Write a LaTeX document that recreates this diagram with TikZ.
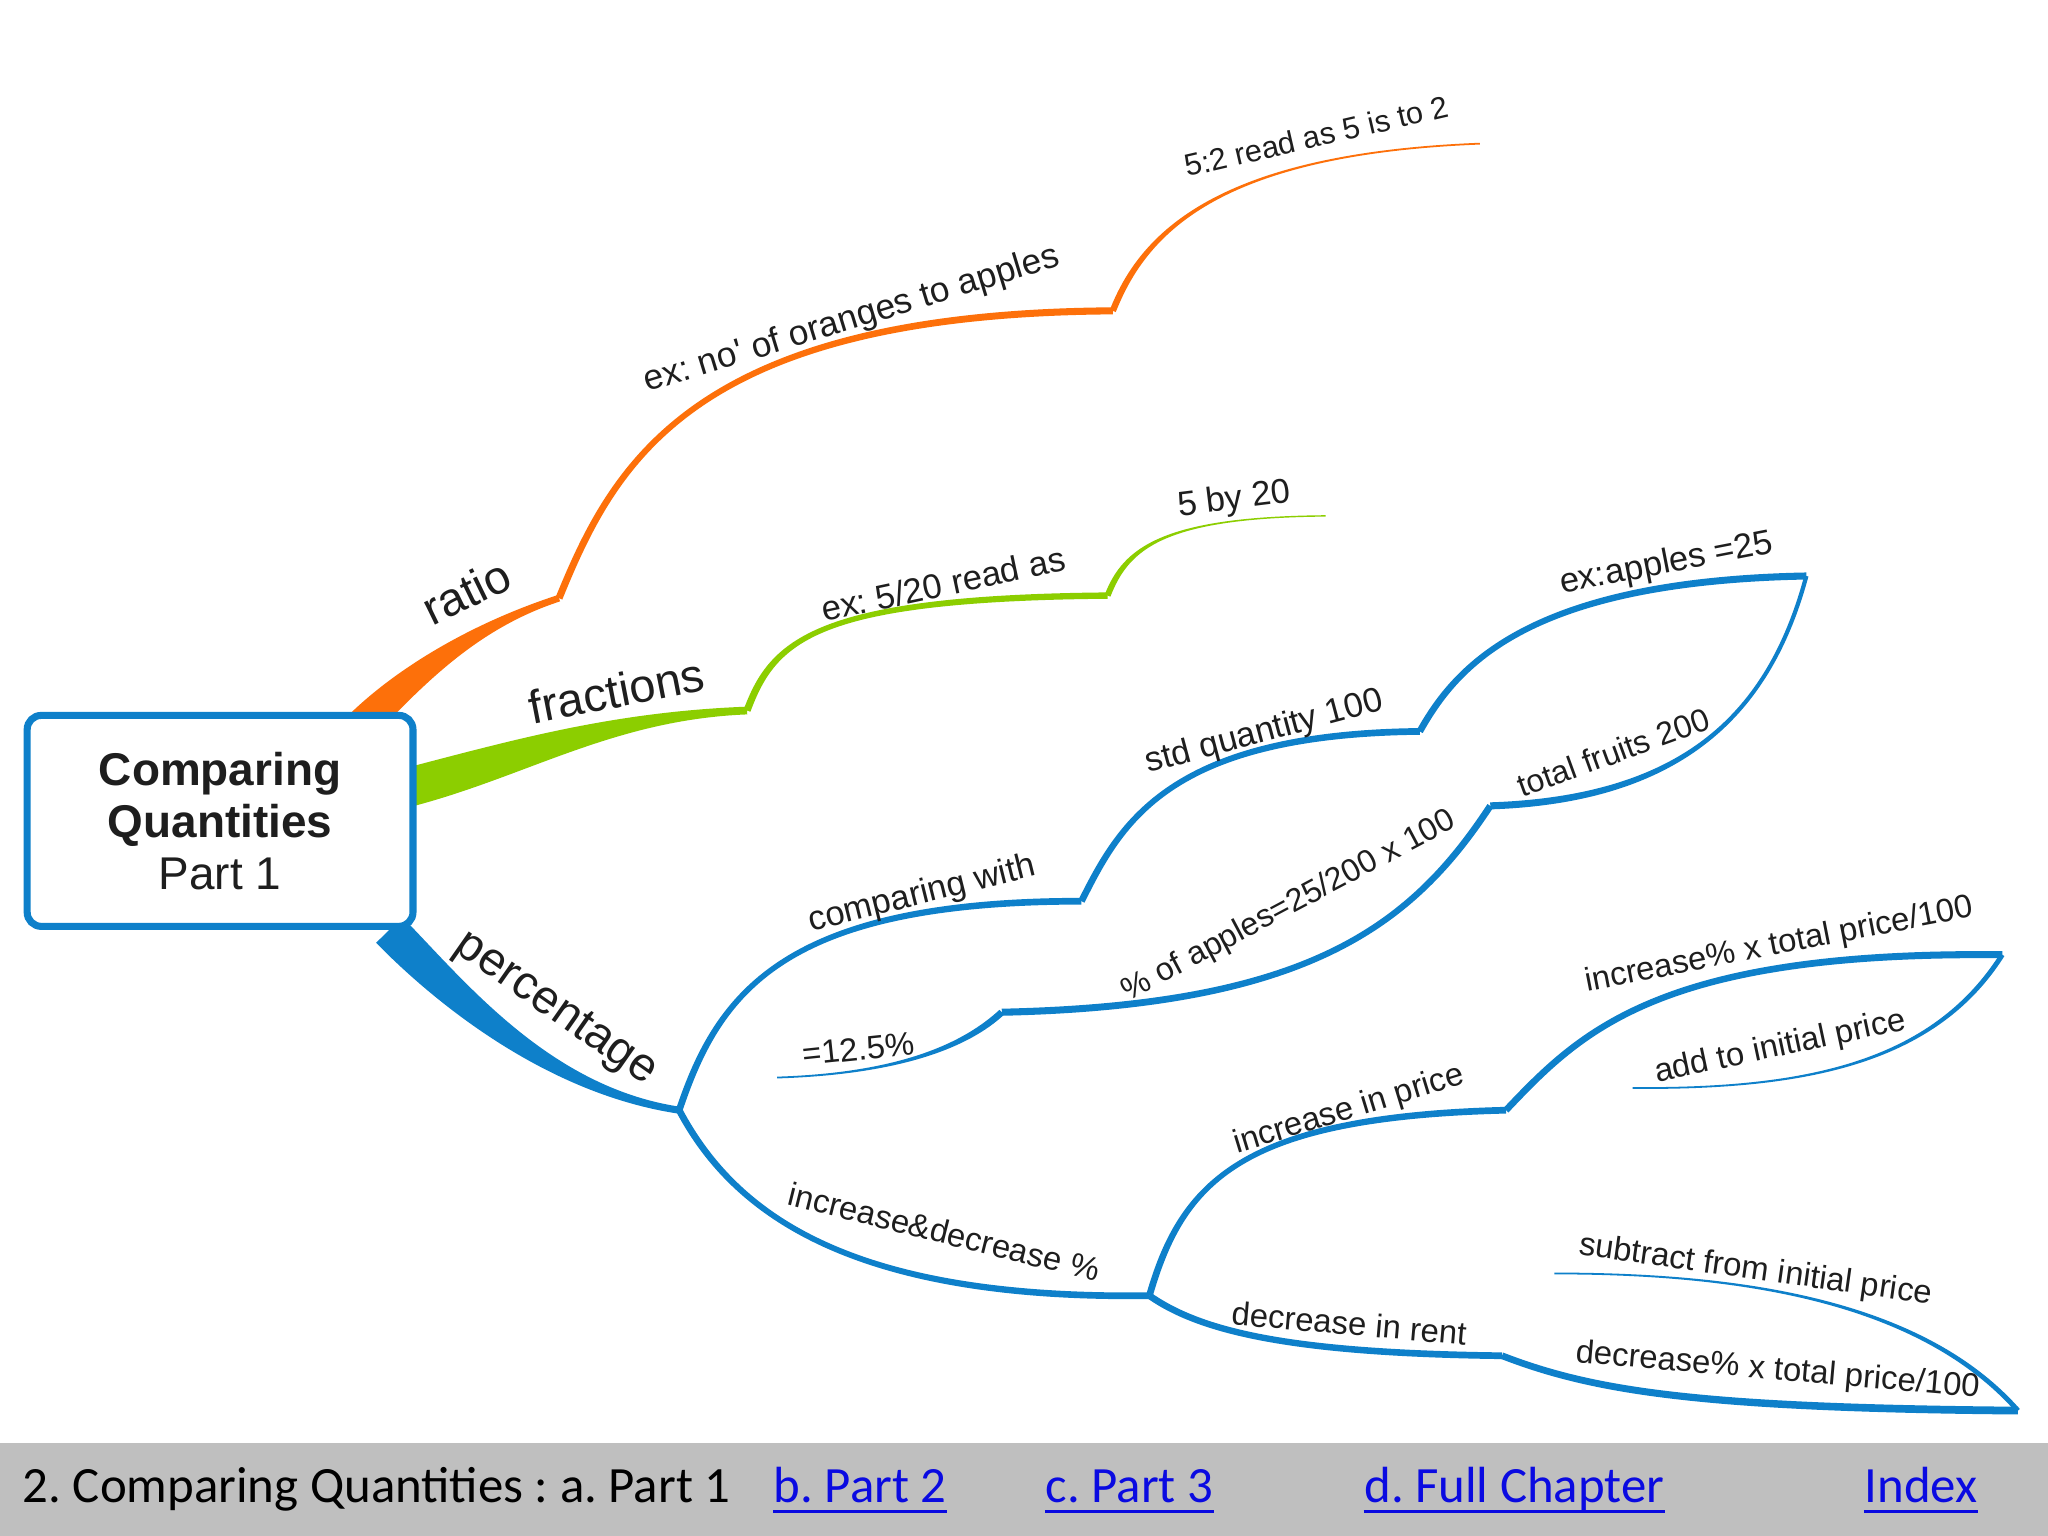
\documentclass[tikz,border=0pt]{standalone}
\usepackage{fontspec}
\setmainfont{Liberation Sans}
\newfontfamily\calibrifont{Carlito}
\usetikzlibrary{calc}
\definecolor{mmblue}{RGB}{14,128,202}
\definecolor{mmorange}{RGB}{253,112,10}
\definecolor{mmgreen}{RGB}{140,206,0}
\definecolor{barGray}{RGB}{191,191,191}
\definecolor{linkblue}{RGB}{10,10,225}
\definecolor{txt}{RGB}{30,30,30}
\frenchspacing
% tapered branch: colour, P0, P1, P2, P3, half width at P0, half width at P3
\newcommand\mmbranch[7]{%
  \fill[#1] ($#2!#6!90:#3$) .. controls ($#3!#6!-90:#2$) and ($#4!#7!90:#5$) .. ($#5!#7!-90:#4$)
    -- ($#5!#7!90:#4$) .. controls ($#4!#7!-90:#5$) and ($#3!#6!90:#2$) .. ($#2!#6!-90:#3$) -- cycle;}
\begin{document}
\begin{tikzpicture}[x=0.013cm, y=-0.013cm,
  lbl/.style={font=\fontsize{9.8}{11}\selectfont, text=txt, inner sep=0pt},
  lbls/.style={font=\fontsize{9.3}{11}\selectfont, text=txt, inner sep=0pt},
  mainlbl/.style={font=\fontsize{13.3}{15}\selectfont, text=txt, inner sep=0pt},
  rootbox/.style={draw=mmblue, line width=2pt, fill=white, rounded corners=4pt,
    minimum width=3.84cm, minimum height=2.1cm, align=center, inner sep=0pt,
    text=txt, font=\fontsize{13}{14.8}\selectfont},
  navtext/.style={font=\calibrifont\fontsize{14.4}{16}\selectfont, anchor=base west, inner sep=0pt, text=black},
  navlink/.style={navtext, text=linkblue},
  uline/.style={draw=linkblue, line width=0.8pt}]
\useasboundingbox (0,0) rectangle (1568,1176);
\fill[white] (0,0) rectangle (1568,1176);

% junction points
\coordinate (rA) at (274,558);
\coordinate (o1) at (428,458);
\coordinate (o2) at (852,238);
\coordinate (o3) at (1133,110);
\coordinate (fA) at (312,603);
\coordinate (g1) at (572,544);
\coordinate (g2) at (848,456);
\coordinate (g3) at (1015,395);
\coordinate (pA) at (298,712);
\coordinate (b1) at (520,850);
\coordinate (b2) at (828,690);
\coordinate (b3) at (1087,560);
\coordinate (b4) at (1383,441);
\coordinate (b5) at (1141,617);
\coordinate (b6) at (767,775);
\coordinate (b7) at (595,825);
\coordinate (b8) at (880,992);
\coordinate (b9) at (1153,850);
\coordinate (b10) at (1533,731);
\coordinate (b11) at (1250,833);
\coordinate (b12) at (1150,1038);
\coordinate (b13) at (1545,1080);
\coordinate (b14) at (1190,975);

% orange: ratio
\mmbranch{mmorange}{(rA)}{(310,522)}{(360,480)}{(o1)}{4.6pt}{0.95pt}
\mmbranch{mmorange}{(o1)}{(470,355)}{(530,240)}{(o2)}{1.0pt}{1.0pt}
\mmbranch{mmorange}{(o2)}{(875,180)}{(930,118)}{(o3)}{0.9pt}{0.25pt}
% green: fractions
\mmbranch{mmgreen}{(fA)}{(400,580)}{(470,548)}{(g1)}{5.5pt}{1.1pt}
\mmbranch{mmgreen}{(g1)}{(592,490)}{(625,458)}{(g2)}{1.0pt}{0.9pt}
\mmbranch{mmgreen}{(g2)}{(862,420)}{(890,396)}{(g3)}{0.85pt}{0.2pt}
% blue: percentage
\mmbranch{mmblue}{(pA)}{(345,760)}{(420,835)}{(b1)}{5.2pt}{1.0pt}
\mmbranch{mmblue}{(b1)}{(550,760)}{(600,690)}{(b2)}{0.95pt}{0.95pt}
\mmbranch{mmblue}{(b2)}{(858,630)}{(895,562)}{(b3)}{0.95pt}{0.95pt}
\mmbranch{mmblue}{(b3)}{(1115,510)}{(1170,445)}{(b4)}{0.95pt}{1.0pt}
\mmbranch{mmblue}{(b5)}{(1290,612)}{(1355,545)}{(b4)}{1.0pt}{0.6pt}
\mmbranch{mmblue}{(b6)}{(1000,770)}{(1080,710)}{(b5)}{1.0pt}{0.95pt}
\mmbranch{mmblue}{(b7)}{(690,822)}{(740,800)}{(b6)}{0.25pt}{0.95pt}
\mmbranch{mmblue}{(b1)}{(565,935)}{(660,995)}{(b8)}{0.95pt}{0.95pt}
\mmbranch{mmblue}{(b8)}{(905,905)}{(950,855)}{(b9)}{0.95pt}{0.95pt}
\mmbranch{mmblue}{(b9)}{(1210,790)}{(1270,728)}{(b10)}{0.95pt}{1.0pt}
\mmbranch{mmblue}{(b11)}{(1380,834)}{(1480,815)}{(b10)}{0.25pt}{0.7pt}
\mmbranch{mmblue}{(b8)}{(920,1020)}{(990,1036)}{(b12)}{0.95pt}{0.95pt}
\mmbranch{mmblue}{(b12)}{(1220,1065)}{(1300,1078)}{(b13)}{0.95pt}{1.1pt}
\mmbranch{mmblue}{(b14)}{(1330,975)}{(1470,995)}{(b13)}{0.25pt}{0.7pt}

% central topic
\node[rootbox] (root) at (168.5,628.5) {\textbf{Comparing}\\\textbf{Quantities}\\Part 1};

% labels
\node[mainlbl, rotate=26] (lratio) at (357,453) {ratio};
\node[mainlbl, rotate=11] (lfrac) at (472,529) {fractions};
\node[mainlbl, rotate=-35] (lperc) at (425,773) {percentage};
\node[lbl, font=\fontsize{10}{11}\selectfont, rotate=17] (lo2) at (652,245) {ex: no\textquotesingle{} of oranges to apples};
\node[lbl, font=\fontsize{8.7}{10}\selectfont, rotate=13] (lo3) at (1008,104) {5:2 read as 5 is to 2};
\node[lbl, rotate=12] (lg2) at (722,447) {ex: 5/20 read as};
\node[lbl, rotate=7] (lg3) at (945,383) {5 by 20};
\node[lbl, rotate=14] (lb2) at (706,685) {comparing with};
\node[lbl, rotate=15] (lb3) at (968,561) {std quantity 100};
\node[lbl, rotate=11] (lb4) at (1276,432) {ex:apples =25};
\node[lbl, font=\fontsize{9.1}{11}\selectfont, rotate=20] (lb5) at (1235,576) {total fruits 200};
\node[lbl, font=\fontsize{9.1}{10}\selectfont, rotate=28] (lb6) at (987,694) {\% of apples=25/200 x 100};
\node[lbls, rotate=6] (lb7) at (657,803) {=12.5\%};
\node[lbls, rotate=-14] (lb8) at (723,943) {increase\&decrease \%};
\node[lbls, rotate=17] (lb9) at (1033,850) {increase in price};
\node[lbls, rotate=11] (lb10) at (1362,724) {increase\% x total price/100};
\node[lbls, rotate=12] (lb11) at (1363,802) {add to initial price};
\node[lbls, rotate=-5] (lb12) at (1033,1013) {decrease in rent};
\node[lbls, rotate=-5] (lb13) at (1361,1050) {decrease\% x total price/100};
\node[lbls, rotate=-8] (lb14) at (1344,973) {subtract from initial price};

% navigation bar
\fill[barGray] (0,1105) rectangle (1568,1176);
\node[navtext] (nav) at (17,1150.5) {2. Comparing Quantities : a. Part 1};
\node[navlink] (lnkb) at (592,1150.5) {b. Part 2};
\node[navlink] (lnkc) at (800,1150.5) {c. Part 3};
\node[navlink] (lnkd) at (1044,1150.5) {d. Full Chapter};
\node[navlink] (lnki) at (1427,1150.5) {Index};
\foreach \l in {lnkb,lnkc,lnkd,lnki}
  \draw[uline] ([yshift=-2.4pt]\l.base west) -- ([yshift=-2.4pt]\l.base east);
\end{tikzpicture}
\end{document}
